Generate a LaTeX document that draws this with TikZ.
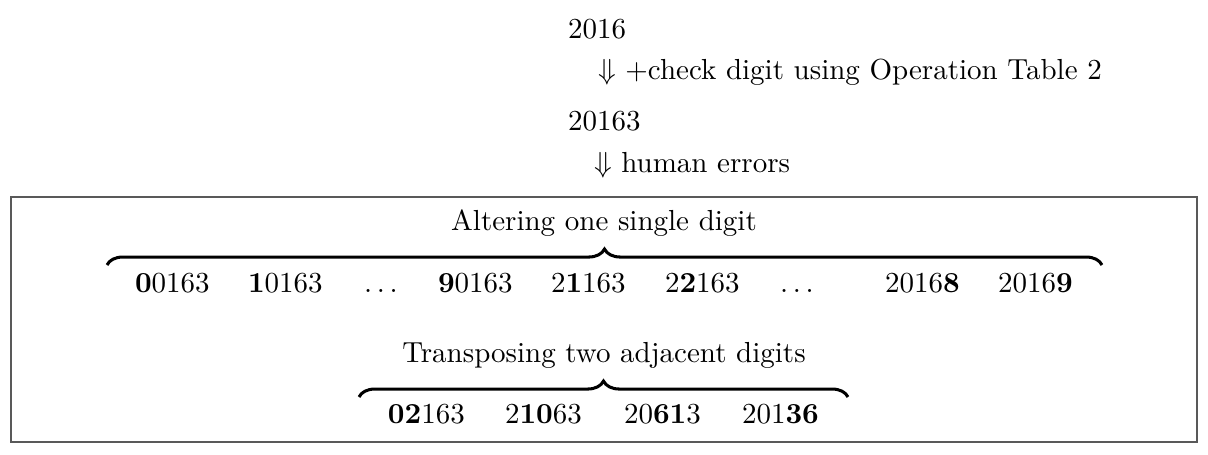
\documentclass[tikz,border=0pt]{standalone}
\usetikzlibrary{decorations.pathreplacing}
\begin{document}
\begin{tikzpicture}[x=0.3448pt,y=-0.3448pt,
  txt/.style={inner sep=0pt,outer sep=0pt,anchor=base west},
  ttl/.style={inner sep=0pt,outer sep=0pt,anchor=base},
  bracepath/.style={decorate,decoration={brace,amplitude=5.5pt},line width=1.05pt},
  frame/.style={draw=black!65,line width=0.5pt}]
\useasboundingbox (0,0) rectangle (1208,454);
% top chain
\node[txt] (y0) at (568,38) {2016};
\node[txt] (a1) at (598,79) {$\Downarrow$ +check digit using Operation Table 2};
\node[txt] (y1) at (568,130) {20163};
\node[txt] (a2) at (594,172) {$\Downarrow$ human errors};
% frame
\draw[frame] (11,197) rectangle (1197,442);
% altering one digit
\node[ttl] (t1) at (604,230) {Altering one single digit};
\coordinate (b1l) at (107,265);
\coordinate (b1r) at (1102,265);
\draw[bracepath] (b1l) -- (b1r);
\node[txt] (r1) at (135,292) {$\mathbf{0}0163$};
\node[txt] (r2) at (248,292) {$\mathbf{1}0163$};
\node[txt] (r3) at (364,292) {$\ldots$};
\node[txt] (r4) at (438,292) {$\mathbf{9}0163$};
\node[txt] (r5) at (551,292) {$2\mathbf{1}163$};
\node[txt] (r6) at (665,292) {$2\mathbf{2}163$};
\node[txt] (r7) at (780,292) {$\ldots$};
\node[txt] (r8) at (885,292) {$2016\mathbf{8}$};
\node[txt] (r9) at (998,292) {$2016\mathbf{9}$};
% transposing
\node[ttl] (t2) at (604,362) {Transposing two adjacent digits};
\coordinate (b2l) at (359,397);
\coordinate (b2r) at (848,397);
\draw[bracepath] (b2l) -- (b2r);
\node[txt] (s1) at (388,423) {$\mathbf{02}163$};
\node[txt] (s2) at (505,423) {$2\mathbf{10}63$};
\node[txt] (s3) at (624,423) {$20\mathbf{61}3$};
\node[txt] (s4) at (742,423) {$201\mathbf{36}$};
\end{tikzpicture}
\end{document}
